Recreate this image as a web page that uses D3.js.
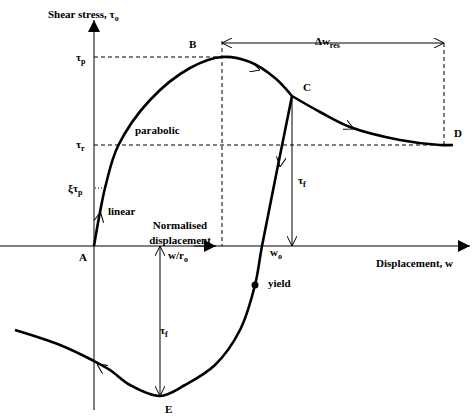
<!DOCTYPE html>
<html><head><meta charset="utf-8">
<script src="https://cdn.jsdelivr.net/npm/d3@7/dist/d3.min.js"></script>
<style>body{margin:0;background:#fff}text{font-family:"Liberation Serif",serif;font-weight:bold;font-size:11px}</style>
</head><body><svg id="c" width="474" height="420"></svg>
<script>
// schematic units: x = displacement, y = shear stress (A at origin)
const loading = [[0,0],[0.6,3.4],[1.2,6.2],[2.4,10],[5.6,14.6],[9.6,17.8],[12.8,18.9],[15.6,18.4],[18.1,16.8],[19.8,15]];
const residual = [[19.8,15],[22.6,13.4],[25.6,11.9],[30.6,10.6],[34.6,10.1],[35.9,10.1]];
const unloading = [[19.8,15],[16.8,0],[16.1,-3.9],[14.6,-8.4],[12.1,-11.9],[9.1,-13.9],[6.6,-15],[3.6,-13.9],[1.6,-12.4],[0,-11.5],[-3.4,-9.9],[-7.9,-8.4]];
const yieldPt = [16.1,-3.9];
const tauP = 18.9, tauR = 10.1, xiTauP = 5.8;
const xB = 12.8, xD = 35, wC = 19.8, xE = 6.6, tauE = -15;

const x = d3.scaleLinear().domain([-9.4, 38]).range([0, 474]);
const y = d3.scaleLinear().domain([-17.4, 24.6]).range([420, 0]);
const svg = d3.select("#c");
const defs = svg.append("defs");
defs.append("marker").attr("id","fa").attr("viewBox","0 0 10 10").attr("refX",10).attr("refY",5)
  .attr("markerWidth",12).attr("markerHeight",12).attr("markerUnits","userSpaceOnUse").attr("orient","auto")
  .append("path").attr("d","M0,0L10,5L0,10Z").attr("fill","#000");
defs.append("marker").attr("id","oa").attr("viewBox","0 0 10 10").attr("refX",10).attr("refY",5)
  .attr("markerWidth",10).attr("markerHeight",10).attr("markerUnits","userSpaceOnUse").attr("orient","auto-start-reverse")
  .append("path").attr("d","M0,0L10,5L0,10").attr("fill","none").attr("stroke","#000").attr("stroke-width",1);

const line = (a,b,o={}) => {
  const l = svg.append("line").attr("x1",x(a[0])).attr("y1",y(a[1])).attr("x2",x(b[0])).attr("y2",y(b[1]))
    .attr("stroke","#000").attr("stroke-width",o.w||1);
  if (o.dash) l.attr("stroke-dasharray",o.dash);
  if (o.end) l.attr("marker-end",`url(#${o.end})`);
  if (o.start) l.attr("marker-start",`url(#${o.start})`);
  return l;
};
// axes
line([-9.4,0],[37.6,0],{end:"fa"});
line([0,-16.4],[0,22.6],{end:"fa"});
line([10,0],[12.2,0],{end:"fa",w:0});
// guides
line([0,tauP],[xB,tauP],{dash:"4,3"});
line([0,tauR],[35.5,tauR],{dash:"4,3"});
line([xB,tauP+1.6],[xB,0],{dash:"4,3"});
line([xD,tauR],[xD,20.4],{dash:"4,3"});
line([0.1,xiTauP],[1,xiTauP],{dash:"1,2"});
line([xB,20.3],[xD,20.3],{start:"oa",end:"oa"});
line([wC,15],[wC,0],{end:"oa"});
line([xE,0],[xE,tauE],{start:"oa",end:"oa"});
// curves
const gen = d3.line().x(d=>x(d[0])).y(d=>y(d[1])).curve(d3.curveCatmullRom);
[loading,residual,unloading].forEach(d=>svg.append("path").attr("d",gen(d)).attr("fill","none").attr("stroke","#000").attr("stroke-width",2.6));
svg.append("circle").attr("cx",x(yieldPt[0])).attr("cy",y(yieldPt[1])).attr("r",3.5);
// direction chevrons on curves
const chev = (p,q) => line(p,q,{end:"oa",w:0.01});
chev([14.6,18.2],[16.6,17.6]); chev([24.5,12.4],[26,11.7]);
chev([0.5,2.6],[0.65,3.4]); chev([18.7,8.6],[18.6,7.9]); chev([0.6,-12],[0.3,-11.8]);
// labels
const t = (s,px,py,sub,anchor) => {
  const e = svg.append("text").attr("x",px).attr("y",py).attr("text-anchor",anchor||"start").text(s);
  if (sub) e.append("tspan").attr("font-size",8).attr("dy",3).text(sub);
};
t("Shear stress, τ",48,18,"o");
t("B",x(xB)-33,48); t("τ",76,61,"p"); t("C",303,91); t("D",454,137);
t("parabolic",135,134); t("τ",76,148,"r"); t("ξτ",68,192,"p"); t("linear",108,215);
t("Normalised",180,229,null,"middle"); t("displacement",180,244,null,"middle");
t("A",79,261); t("w/r",168,259,"o"); t("w",270,256,"o");
t("τ",298,184,"f"); t("Displacement, w",376,267); t("yield",268,287); t("τ",160,334,"f"); t("E",165,413);
t("Δw",315,45,"res");
</script></body></html>
